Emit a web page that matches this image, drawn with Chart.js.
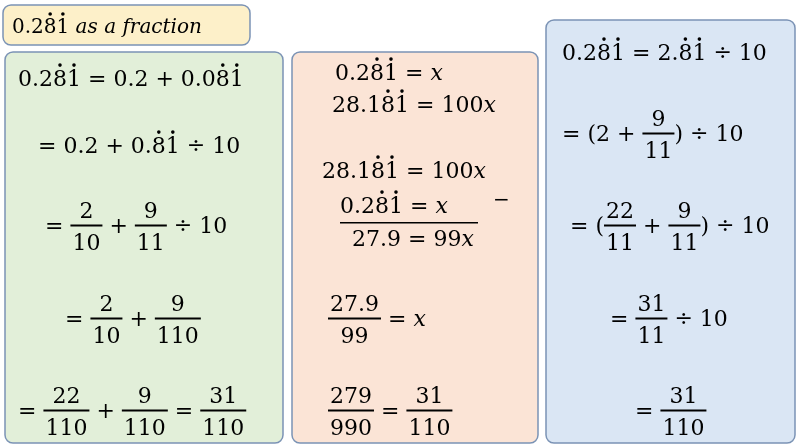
<!DOCTYPE html>
<html>
<head>
<meta charset="utf-8">
<script src="https://cdn.jsdelivr.net/npm/chart.js@4"></script>
<style>
  html, body { margin: 0; padding: 0; background: #fff; }
  #wrap { width: 799px; height: 448px; }
</style>
</head>
<body>
<div id="wrap"><canvas id="c"></canvas></div>
<script>
// '^' = dot over the next digit, '|' toggles italic, ['f', num, den] = fraction
const titleLine = ['0.2^8^1 |as a fraction|'];

const leftLines = [
  [18, 78, ['0.2^8^1 = 0.2 + 0.0^8^1']],
  [38, 145, ['= 0.2 + 0.^8^1 ÷ 10']],
  [45, 225, ['= ', ['f', '2', '10'], ' + ', ['f', '9', '11'], ' ÷ 10']],
  [65, 318, ['= ', ['f', '2', '10'], ' + ', ['f', '9', '110']]],
  [18, 410, ['= ', ['f', '22', '110'], ' + ', ['f', '9', '110'], ' = ', ['f', '31', '110']]]
];

const middleLines = [
  [335, 72, ['0.2^8^1 = |x|']],
  [332, 104, ['28.1^8^1 = 100|x|']],
  [322, 170, ['28.1^8^1 = 100|x|']],
  [340, 205, ['0.2^8^1 = |x|']],
  [352, 238, ['27.9 = 99|x|']],
  [328, 318, [['f', '27.9', '99'], ' = |x|']],
  [328, 410, [['f', '279', '990'], ' = ', ['f', '31', '110']]]
];

const rightLines = [
  [562, 52, ['0.2^8^1 = 2.^8^1 ÷ 10']],
  [562, 133, ['= (2 + ', ['f', '9', '11'], ') ÷ 10']],
  [570, 225, ['= (', ['f', '22', '11'], ' + ', ['f', '9', '11'], ') ÷ 10']],
  [610, 318, ['= ', ['f', '31', '11'], ' ÷ 10']],
  [635, 410, ['= ', ['f', '31', '110']]]
];

const FONT = '"DejaVu Serif", serif';

function roundBox(ctx, x, y, w, h, fill) {
  ctx.beginPath();
  ctx.roundRect(x, y, w, h, 8);
  ctx.fillStyle = fill;
  ctx.fill();
  ctx.strokeStyle = '#7b93b5';
  ctx.lineWidth = 1.5;
  ctx.stroke();
}

// draw (or measure) a plain string with dots and italics; returns width
function drawText(ctx, str, x, y, size, draw) {
  let italic = false, dot = false, w = 0;
  for (const ch of str) {
    if (ch === '|') { italic = !italic; continue; }
    if (ch === '^') { dot = true; continue; }
    ctx.font = (italic ? 'italic ' : '') + size + 'px ' + FONT;
    const cw = ctx.measureText(ch).width;
    if (draw) {
      ctx.fillText(ch, x + w, y);
      if (dot) {
        ctx.beginPath();
        ctx.arc(x + w + cw / 2, y - size * 0.95, 1.8, 0, Math.PI * 2);
        ctx.fill();
      }
    }
    dot = false;
    w += cw;
  }
  return w;
}

function drawLine(ctx, x, y, tokens, size) {
  let cx = x;
  tokens.forEach(t => {
    if (typeof t === 'string') {
      cx += drawText(ctx, t, cx, y + 8, size, true);
    } else {
      const wn = drawText(ctx, t[1], 0, 0, size, false);
      const wd = drawText(ctx, t[2], 0, 0, size, false);
      const fw = Math.max(wn, wd) + 4;
      drawText(ctx, t[1], cx + (fw - wn) / 2, y - 7, size, true);
      drawText(ctx, t[2], cx + (fw - wd) / 2, y + 25, size, true);
      ctx.fillRect(cx, y - 0.5, fw, 2);
      cx += fw;
    }
  });
}

const panels = {
  id: 'panels',
  afterDraw(chart) {
    const ctx = chart.ctx;
    ctx.save();
    roundBox(ctx, 3, 5, 247, 40, '#fdf0c9');
    roundBox(ctx, 5, 52, 278, 391, '#e2efd9');
    roundBox(ctx, 292, 52, 246, 391, '#fbe4d6');
    roundBox(ctx, 546, 20, 249, 423, '#dae6f4');
    ctx.fillStyle = '#000';
    ctx.textBaseline = 'alphabetic';
    drawText(ctx, titleLine[0], 12, 33, 20, true);
    [leftLines, middleLines, rightLines].forEach(group =>
      group.forEach(l => drawLine(ctx, l[0], l[1], l[2], 22)));
    // subtraction line and minus sign
    ctx.fillRect(340, 222, 138, 1.5);
    ctx.font = '20px ' + FONT;
    ctx.fillText('−', 493, 206);
    ctx.restore();
  }
};

new Chart(document.getElementById('c'), {
  type: 'scatter',
  data: { datasets: [] },
  options: {
    responsive: true,
    maintainAspectRatio: false,
    animation: false,
    scales: { x: { display: false }, y: { display: false } },
    plugins: { legend: { display: false }, tooltip: { enabled: false } }
  },
  plugins: [panels]
});
</script>
</body>
</html>
